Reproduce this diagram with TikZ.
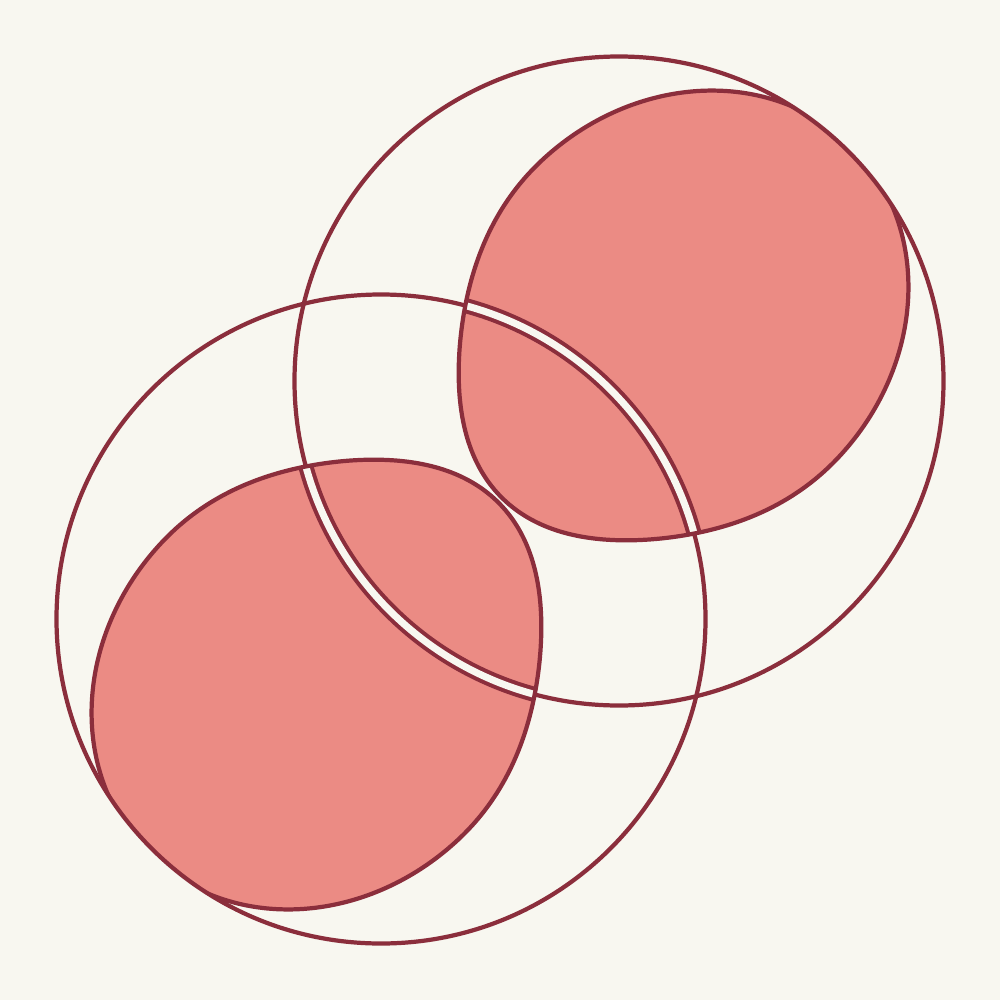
\documentclass[tikz,border=0pt]{standalone}
\definecolor{bg}{RGB}{248,247,240}
\definecolor{pinkf}{RGB}{235,139,132}
\definecolor{ink}{RGB}{139,46,60}
\tikzset{
  inkline/.style={draw=ink, line width=1.2pt},
  bandouter/.style={draw=ink, line width=4.3pt},
  bandinner/.style={draw=bg, line width=2pt},
  declare function={
    ef(\t)=ifthenelse(cos(\t)>=0, 1, 1-0.045*sin(2*\t)*sin(2*\t));
    eu(\t)=ifthenelse(cos(\t)>=0, 238*cos(\t), 258*cos(\t))*ef(\t);
    ev(\t)=210*sin(\t)*ef(\t);
  },
}
\def\Cone{(381,619) circle [radius=324.5]}
\def\Ctwo{(619,381) circle [radius=324.5]}
\def\Eone{plot[variable=\t, domain=0:357, samples=120, smooth cycle]
  ({684+0.7071*(eu(\t)+ev(\t))},{315+0.7071*(ev(\t)-eu(\t))})}
\newcommand{\unitfill}{%
  \begin{scope}\clip \Ctwo; \fill[pinkf] \Eone; \end{scope}}
\newcommand{\unitband}{%
  \begin{scope}\clip \Ctwo; \clip \Eone;
    \draw[bandouter] \Cone; \draw[bandinner] \Cone; \end{scope}}
\newcommand{\unitoutline}{%
  \begin{scope}\clip \Ctwo; \draw[inkline] \Eone; \end{scope}}
\begin{document}
\begin{tikzpicture}[x=0.01cm, y=-0.01cm]
  \fill[bg] (0,0) rectangle (1000,1000);
  \useasboundingbox (0,0) rectangle (1000,1000);
  \unitfill
  \begin{scope}[rotate around={180:(500,500)}]\unitfill\end{scope}
  \draw[inkline] \Cone;
  \draw[inkline] \Ctwo;
  \unitband
  \begin{scope}[rotate around={180:(500,500)}]\unitband\end{scope}
  \unitoutline
  \begin{scope}[rotate around={180:(500,500)}]\unitoutline\end{scope}
\end{tikzpicture}
\end{document}
